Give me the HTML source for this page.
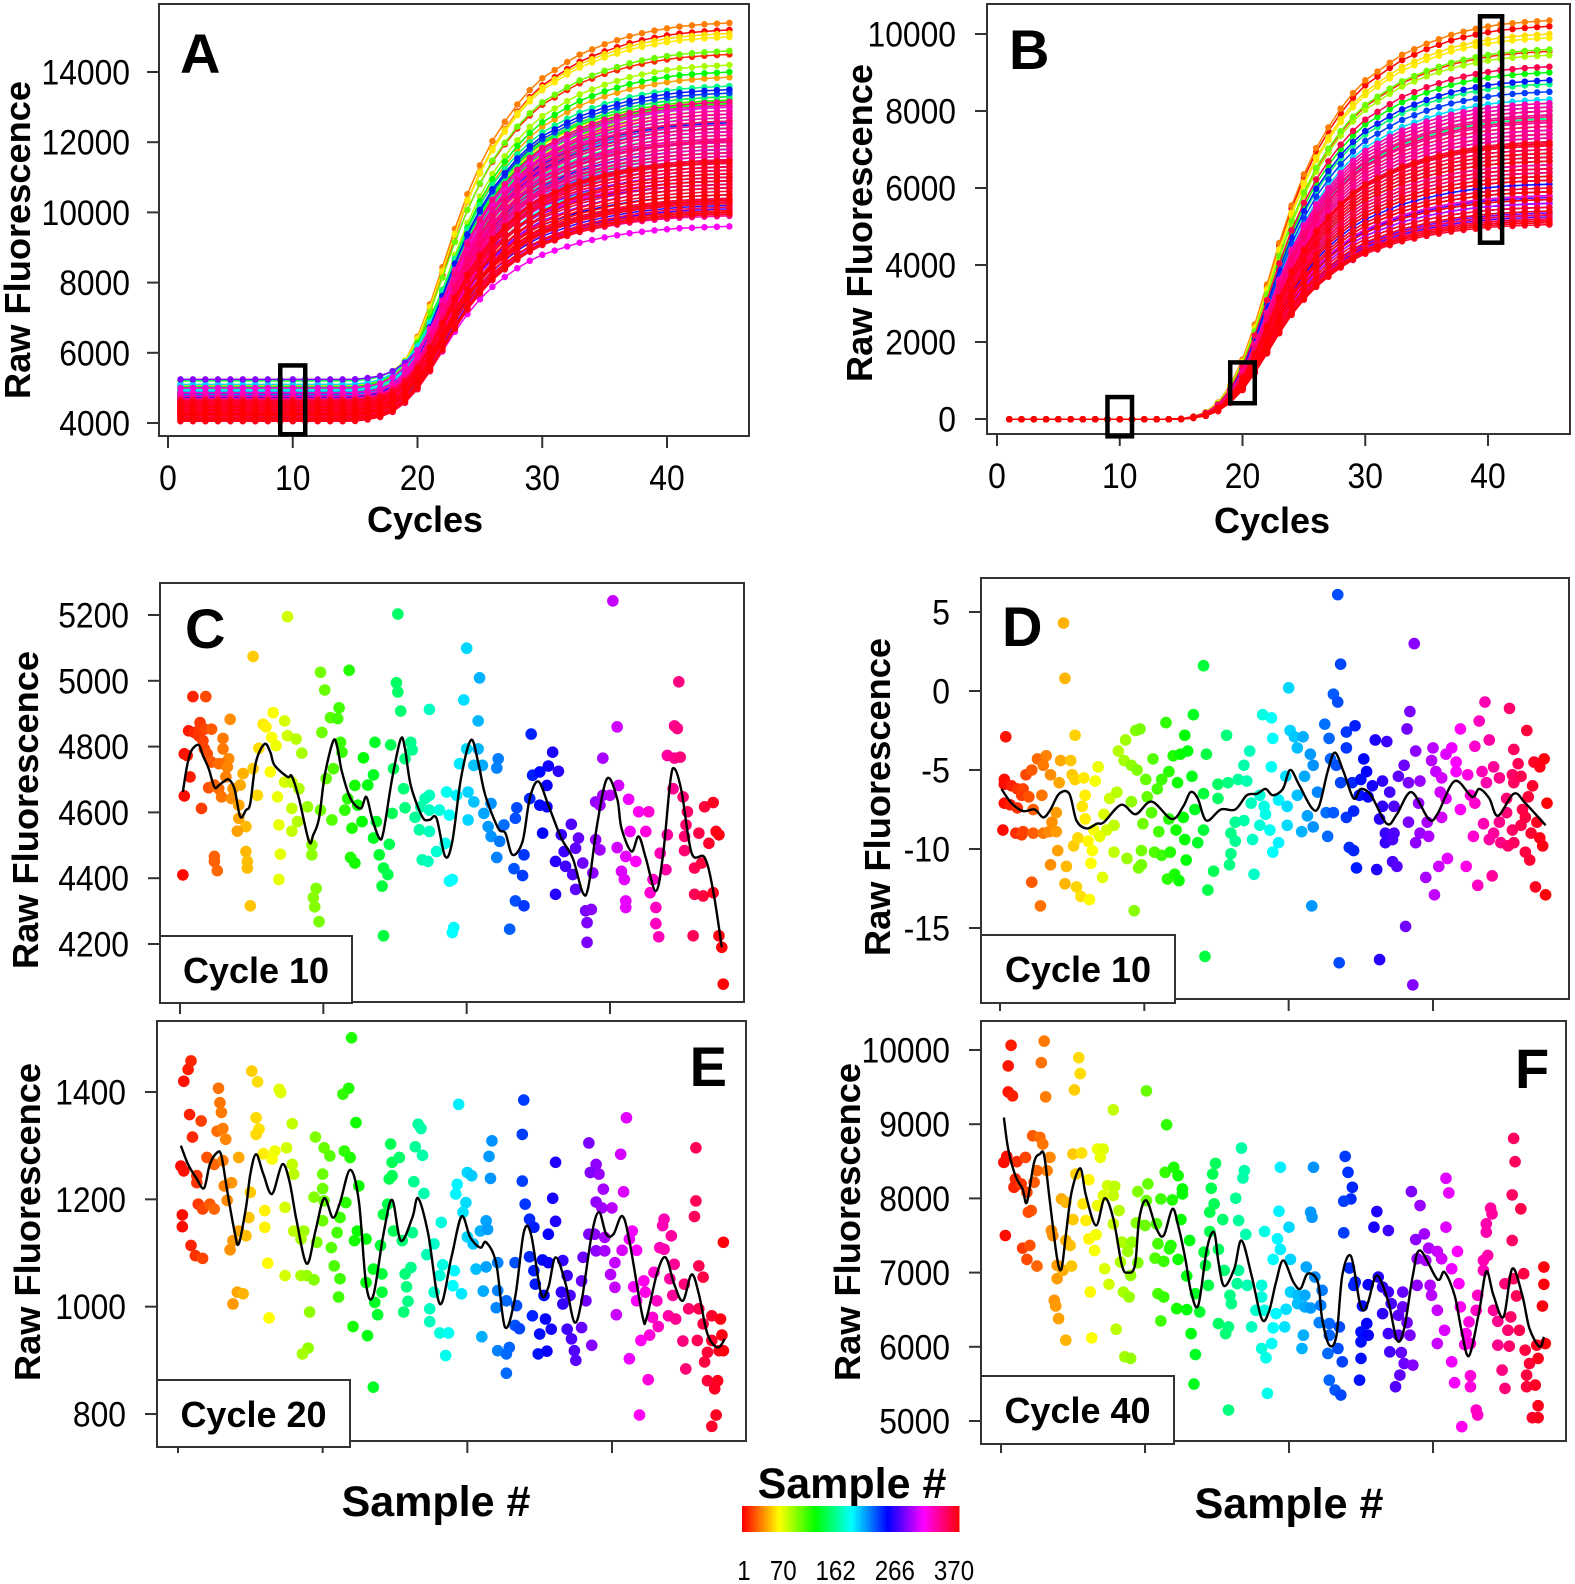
<!DOCTYPE html>
<html lang="en">
<head>
<meta charset="utf-8">
<title>Raw fluorescence by cycle and sample</title>
<style>
html,body{margin:0;padding:0;background:#fff}
svg{display:block}
text{font-family:"Liberation Sans",Arial,sans-serif;fill:#000}
</style>
</head>
<body>
<svg id="figure" xmlns="http://www.w3.org/2000/svg" width="1575" height="1584" viewBox="0 0 1575 1584"></svg>
<script>
/* ---------- amplification curves (panels A, B) ---------- */
const cycleTicks = [0,10,20,30,40];
const sampleTicks = [0,100,200,300];
const amplificationShape = [0,0,0,0,0,0,0,0,0,0,0,0,0,0,.001,.007,.018,.042,.085,.15,.238,.338,.442,.536,.614,.68,.732,.779,.818,.85,.872,.894,.914,.928,.942,.953,.964,.972,.979,.985,.99,.993,.996,.998,1];
const curveSamples = [1,4,7,10,13,16,19,22,25,28,
31,34,37,40,43,46,49,52,55,58,
61,64,67,70,73,76,79,82,85,88,
91,94,97,100,103,106,109,112,115,118,
121,124,127,130,133,136,139,142,145,148,
151,154,157,160,163,166,169,172,175,178,
181,184,187,190,193,196,199,202,205,208,
211,214,217,220,223,226,229,232,235,238,
241,244,247,250,253,256,259,262,265,268,
271,274,277,280,283,286,289,292,295,298,
301,304,307,310,313,316,319,322,325,328,
331,334,337,340,343,346,349,352,355,358,
361,364,367,370,
335,336,337,338,339,340,341,342,343,344,
345,346,347,348,349,350,351,352,353,354,
362,363,364,365,366,367,368,369,370,371,
372,373,374,375,376,377,378,379,379,380];
const baselineA = [4650,4780,4850,4950,4850,4750,4620,4850,4680,4830,
4880,4750,4640,4450,4420,4490,4320,5074,4870,4900,
4830,4720,4650,5195,4690,4830,4610,4570,4500,4370,
4660,5030,4970,4840,4920,4780,4710,4610,4730,4640,
5032,4600,4460,4770,4640,4810,4520,4220,4430,4810,
4600,5203,4970,4790,4670,4610,4550,4910,4640,4480,
4610,4660,4400,4590,4250,4940,5100,4790,4630,4580,
5009,4880,4760,4600,4510,4460,4580,4250,4430,4640,
4840,4700,4620,4540,4780,4720,4520,4480,4350,4440,
4300,4210,4760,4630,4650,5243,4860,4680,4500,4420,
4330,4600,4540,4460,4360,4310,4220,4470,4530,4997,
4860,4770,4670,4600,4530,4430,4350,4620,4530,4230,
4190,4078,4540,4360,
4650,4300,4500,4200,4600,4400,4350,4550,4250,4480,
4700,4150,4420,4380,4620,4280,4520,4180,4460,4340,
4500,4200,4600,4060,4400,4300,4550,4120,4650,4250,
4350,4450,4100,4050,4580,4220,4480,4380,4150,4280];
const plateauA = [15200,12600,13200,14500,12000,12800,11900,13300,12500,13000,
15400,12400,11800,13850,12300,11700,13100,12800,15100,15000,
13000,12700,13200,12000,13400,12500,11900,13100,14200,12600,
11800,13000,12300,14600,12900,13300,12400,11900,13000,12700,
13200,12100,14000,13100,12400,11700,11500,13000,12600,12000,
13300,11600,12700,13600,12200,13000,11800,12500,11400,12000,
11900,12300,11100,11600,12100,11300,12400,11800,11000,12000,
11500,10900,11700,12000,11200,10800,11500,10400,11000,13400,
11800,12550,13500,11000,10500,10900,12400,11300,10200,10700,
11500,10100,10900,11400,10300,10800,11100,12000,10000,11300,
10700,12300,11600,12800,11000,12500,9600,13000,11500,12100,
10900,12600,11300,9900,12000,10400,11700,11000,10300,11500,
10000,9950,11200,10350,
13050,12700,12300,12900,12100,11800,12500,11600,12800,12000,
11400,12200,11900,13150,11700,12400,11200,12600,11000,12050,
11500,10300,11200,10150,10800,11400,10400,9950,11000,10600,
11300,10050,10700,11100,10250,10900,11450,10350,10000,10500];
const plateauB = [10200,7400,7900,9550,7100,7600,6900,8200,7300,7800,
10350,7200,6800,8700,7100,6600,7900,7500,10000,9900,
7800,7400,8000,6900,8100,7300,6700,7900,9450,7300,
6600,7700,7100,9600,7600,8000,7200,6700,7800,7500,
8000,7000,9000,7900,7200,6500,6300,7800,7400,6900,
8200,6400,7500,8700,7000,7800,6600,7300,6200,6800,
6700,7100,5900,6400,6900,6100,8300,6600,5800,6800,
6300,5700,6500,6800,6000,5600,6300,5500,5900,8500,
6700,8100,8800,5800,5400,5700,7300,6100,5300,5600,
6400,5250,5750,6200,5350,5700,6000,8000,5150,6200,
5600,7200,6500,7700,5900,7400,5100,8000,6400,7000,
5800,7500,6200,5200,7100,5500,6600,5900,5300,6400,
9150,5150,6900,7150,
8200,7900,7500,8100,7300,7000,7700,6800,8000,7200,
6600,7400,7100,7850,6900,7600,6500,7750,6300,6700,
7200,5300,7000,5200,6500,7100,5500,5050,6800,6000,
6900,5150,6300,6700,5400,6200,7150,5700,5100,5900];

/* ---------- panel C: cycle 10, raw ---------- */
const samplesC = [3,2,7,3,5,9,18,6,10,14,14,13,17,22,16,17,19,15,20,24,22,30,30,35,34,30,27,33,32,27,29,37,36,41,44,51,42,54,41,46,40,24,24,26,46,47,47,49,51,55,58,60,65,73,64,67,63,75,81,85,75,68,73,78,83,69,78,89,82,78,70,69,92,92,95,93,94,97,98,101,99,105,111,110,112,113,107,102,98,106,122,128,131,135,115,117,124,120,127,137,135,119,122,136,118,139,142,145,141,142,146,147,151,152,154,152,161,162,157,149,156,157,148,164,167,174,174,171,168,174,181,186,193,188,174,169,173,179,185,188,190,191,190,198,200,200,208,195,205,211,201,205,201,209,208,222,221,217,212,215,217,223,221,226,234,235,230,234,240,233,239,240,245,244,246,251,256,251,256,253,260,257,264,273,266,278,268,276,262,269,274,281,262,276,283,287,284,284,295,290,295,300,293,305,302,306,313,290,293,288,308,310,311,311,305,314,325,320,327,311,318,330,328,332,332,334,335,340,339,348,345,347,340,345,349,344,351,354,353,352,352,359,364,358,359,365,372,366,372,362,369,374,376,376,378,379];
const valuesC = [4650,4410,4708,4778,4773,4952,4952,4848,4843,4853,4873,4833,4853,4853,4818,4793,4778,4612,4675,4683,4753,4825,4793,4883,4763,4748,4748,4738,4708,4672,4647,4672,4642,4622,4718,4733,4683,4652,4582,4557,4543,4466,4451,4423,4481,4451,4431,4316,5074,4795,4868,4860,4903,4878,4828,4803,4723,4833,4823,4780,5195,4647,4692,4692,4672,4562,4612,4617,4572,4543,4473,4396,4501,4471,4369,4341,4313,4268,5026,4972,4843,4888,4918,4885,4813,4783,4733,4703,4607,4577,4682,4766,4683,4714,4607,4642,4622,4552,4572,4572,4522,4463,4446,4813,5032,4471,4431,4411,4376,4225,4503,4805,4994,4966,4908,5203,4813,4790,4763,4733,4672,4614,4597,4585,4547,4913,4652,4642,4617,4607,4607,4662,4652,4592,4542,4456,4451,4481,4506,4391,4396,4250,4235,4942,5099,4793,4793,4748,4743,4743,4662,4632,4577,5009,4878,4763,4735,4627,4597,4557,4527,4512,4463,4562,4582,4614,4245,4331,4316,4429,4408,4471,4838,4642,4713,4723,4682,4622,4617,4537,4783,4741,4725,4564,4532,4522,4481,4491,4451,4436,4411,4446,4351,4366,4301,4305,4265,4205,4765,4632,4652,4652,4622,4860,5243,4682,4640,4517,4486,4416,4421,4396,4331,4311,4493,4542,4542,4602,4602,4466,4451,4396,4356,4311,4262,4222,4476,4532,4426,4997,4863,4855,4773,4765,4768,4672,4647,4602,4562,4527,4484,4431,4446,4225,4351,4346,4356,4617,4630,4537,4506,4542,4532,4225,4190,4078];
const trendSamplesC = [2,5,8,13,16,20,24,27,30,34,38,42,46,49,53,59,63,66,75,78,83,90,93,97,101,107,110,113,119,126,130,134,139,142,148,154,157,161,169,174,179,185,190,196,203,208,213,222,227,232,239,244,250,257,266,274,281,285,291,298,305,308,315,320,325,332,337,342,345,350,357,366,372,378];
const trendValuesC = [4662,4743,4788,4805,4773,4733,4677,4682,4692,4700,4672,4587,4607,4627,4753,4808,4783,4743,4708,4710,4642,4512,4532,4582,4713,4818,4793,4723,4642,4612,4647,4582,4522,4542,4703,4823,4793,4682,4587,4577,4582,4466,4512,4703,4820,4753,4652,4552,4537,4471,4512,4642,4694,4622,4522,4461,4356,4376,4562,4703,4642,4552,4481,4527,4461,4361,4471,4692,4733,4662,4476,4463,4361,4190];

/* ---------- panel D: cycle 10, baseline corrected ---------- */
const samplesD = [4,3,3,8,12,16,3,7,12,15,20,2,11,15,16,23,30,34,39,36,39,29,23,18,22,26,32,30,35,42,49,50,52,41,58,66,68,52,44,45,59,57,59,40,35,46,22,28,45,53,56,62,51,54,61,64,63,71,65,69,74,79,72,76,81,91,79,88,96,98,93,82,87,94,97,86,91,95,101,106,115,117,112,109,102,105,99,110,117,123,122,128,98,107,112,118,129,116,121,124,120,125,130,128,134,133,143,141,141,127,135,141,137,148,144,142,157,151,158,165,171,151,163,169,160,163,175,160,159,176,169,173,180,174,183,184,180,187,193,189,182,188,189,188,200,201,204,210,206,215,217,198,211,193,199,206,199,213,209,217,216,220,226,231,225,228,234,236,231,234,229,233,236,227,235,240,240,246,244,252,254,250,258,249,255,240,245,242,245,247,261,260,268,265,270,265,273,263,267,273,267,272,272,275,263,287,284,282,288,280,276,283,291,290,283,296,291,297,288,295,301,281,286,300,299,302,306,313,309,316,316,324,319,305,309,319,306,326,329,332,336,339,342,334,346,337,329,335,328,310,304,323,341,331,353,365,356,359,355,361,356,369,370,374,377,379,351,366,351,362,364,346,342,339,347,355,361,368,374,376,372,352,356,364,367,371,378];
const valuesD = [-2.9,-5.6,-5.9,-6,-6.2,-6.2,-7.1,-7.2,-7.4,-6.6,-6.7,-8.8,-9,-9.1,-8.9,-9,-9,-8.9,-8.9,-8.3,-7.7,-6.6,-7.5,-5.3,-5,-4.3,-4.1,-4.7,-5.3,-4.4,-4.4,-5.3,-5.6,-5.8,-5.5,-5.7,-4.8,-2.8,4.3,0.8,-6.6,-7.3,-8.1,-10.1,-11,-11.1,-12.1,-13.6,-12.2,-12.4,-13,-13.2,-9.8,-9.3,-9.5,-10.1,-10.9,-11.8,-8.8,-9.2,-8.8,-8.5,-7.8,-6.8,-6.4,-7,-10.2,-10.6,-11.2,-11,-13.9,-3.8,-3.1,-2.5,-2.4,-4.4,-4.7,-5,-5.6,-4.3,-2,-5.1,-5.6,-6.2,-6.7,-7.7,-8.4,-8.9,-8.1,-5.8,-8.8,-9.4,-10.1,-10.2,-10.4,-10.2,-10.7,-11.9,-11.6,-12,-4.1,-4,-3.8,-2.8,-1.5,-5.4,-4,1.6,-6.5,-8,-7.5,-8.8,-9.6,-11.4,-12.6,-16.8,-2.8,-5.9,-5.8,-5.6,-5.7,-6.8,-8.3,-8.2,-9,-9.5,-9.4,-10.3,-11,-11.6,-4.7,-3.8,-6.6,-7.1,-7.3,-7.8,-8.5,-8.8,-9.6,-10.2,-1.5,-1.7,-3,-4.8,0.2,-2.5,-2.9,-2.9,-3.6,-4,-4.7,-5.4,-5.4,-6.9,-7.3,-6.6,-8.5,-7.9,-8.9,-8.6,-13.6,-6.4,-7.7,-7.7,-2.1,-3,6.1,1.7,-0.2,-0.7,-4.3,-4.7,-5.8,-9.2,-17.2,-3.6,-2.6,-2.2,-5.8,-4.3,-5.1,-5.6,-6,-6.6,-6.7,-8,-7.6,-9.9,-10.1,-11.2,-11.3,-3.1,-3.2,-5.7,-6.4,-7.3,-7.3,-8.1,-9,-9,-9.6,-9.4,-10.8,-11.1,-17,3,-1.3,-2.4,-3.8,-4.7,-5.4,-5.8,-5.7,-7.1,-8.3,-8.3,-9,-9.2,-9.6,-11.8,-12.9,-14.9,-18.6,-3.6,-4.4,-5.1,-5.5,-3.6,-4,-4.5,-5.1,-5.3,-2.4,-6.4,-6.8,-7.5,-8,-6.6,-3.5,-1.9,-0.7,-3.1,-4.8,-5.1,-5.5,-5.8,-7.1,-8.4,-9.2,-10.6,-11.1,-11.1,-11.7,-12.3,-1.1,-2.5,-3.7,-4.6,-5.3,-5.4,-5.8,-6,-4.5,-4.8,-4.3,-7.1,-6.8,-6.7,-7.7,-7.5,-8,-8.3,-9,-9.4,-9.6,-8.8,-8.5,-9,-9.3,-9.8,-8.3,-9.8,-9.6,-10.2,-10.7,-12.4,-12.9];
const trendSamplesD = [1,8,16,24,30,35,41,48,53,60,67,72,84,94,105,119,127,132,137,143,153,163,171,178,184,189,196,201,207,216,221,227,232,238,245,250,257,268,275,285,297,303,315,327,332,339,345,356,364,378];
const trendValuesD = [-6.2,-7.1,-7.6,-7.5,-8,-7.5,-6.5,-6.5,-8.2,-8.7,-8.4,-8.3,-7.2,-7.8,-7,-8.1,-7.3,-6.4,-6.8,-8.2,-7.5,-7.5,-6.6,-6.5,-6.2,-6.6,-6.2,-5,-5.9,-7.4,-7.3,-5.1,-3.9,-5.1,-6.8,-6.2,-6.6,-8.4,-7.8,-6.4,-8.1,-7.8,-5.7,-6.7,-6.2,-6.8,-7.9,-6.5,-7.1,-8.5];

/* ---------- panel E: cycle 20 ---------- */
const samplesE = [2,4,4,7,9,8,16,10,3,3,9,12,17,13,13,14,17,22,25,20,25,31,28,29,30,27,31,33,37,32,34,42,36,38,42,47,49,50,51,55,54,56,54,59,67,65,70,71,79,75,79,80,60,60,74,80,87,85,62,74,85,89,94,38,41,45,63,91,90,86,95,101,105,100,100,94,101,115,119,114,118,120,123,125,116,112,100,110,96,106,124,122,130,108,112,111,121,131,135,147,148,153,148,146,145,142,163,164,169,166,168,170,149,162,155,140,135,141,161,157,130,141,136,138,158,159,156,172,177,182,183,191,181,190,177,174,174,181,187,196,185,194,193,192,199,197,200,203,200,204,217,215,216,213,209,214,206,213,221,221,211,220,210,239,238,238,240,243,246,233,243,227,234,221,229,227,227,233,236,245,256,246,252,261,259,261,256,266,247,253,265,266,271,269,254,258,250,249,255,269,279,272,274,275,286,280,279,282,284,289,285,291,294,289,300,293,284,288,295,289,295,302,299,302,303,310,306,308,314,307,317,312,312,319,315,322,317,323,331,328,320,326,332,325,336,335,341,333,336,329,343,340,342,339,344,358,358,357,360,363,350,353,360,349,359,363,351,364,366,366,373,371,372,369,369,375,376,369,374,377,377];
const valuesE = [1262,1253,1420,1442,1458,1358,1346,1316,1171,1149,1114,1095,1090,1244,1231,1191,1182,1191,1182,1278,1265,1272,1407,1380,1362,1327,1332,1312,1231,1225,1198,1278,1106,1123,1141,1132,1166,1213,1439,1419,1352,1331,1321,1285,1290,1275,1405,1399,1341,1296,1265,1247,1179,1148,1185,1141,1141,1126,1081,1058,1058,1058,1050,1005,1027,1024,979,990,923,912,1316,1296,1281,1247,1220,1204,1197,1290,1278,1396,1407,1501,1343,1225,1194,1166,1160,1138,1120,1110,1141,1123,1126,1076,1052,1018,963,946,850,1303,1269,1278,1244,1238,1191,1172,1233,1298,1282,1340,1332,1211,1141,1138,1123,1114,1070,1061,1073,1061,1045,1027,1008,985,1037,1010,990,1097,1117,1157,1078,1067,1058,1039,1027,996,972,951,951,1024,909,1377,1228,1210,1194,1176,1250,1244,1130,1117,1309,1280,1239,1160,1141,1144,1070,1074,1082,1030,1029,998,944,1385,1321,1234,1191,1163,1148,1082,1093,1011,1002,918,924,912,876,965,959,983,1135,1067,1087,1269,1202,1159,1082,1086,1042,1021,1027,1005,1021,1058,977,958,949,912,917,958,961,940,918,900,928,1092,1048,1011,1305,1265,1250,1247,1219,1195,1184,1184,1135,1135,1129,1104,1104,1082,1060,1036,985,1352,1284,1214,1141,1105,1105,1126,903,798,1037,1048,1011,1027,1011,980,937,947,963,864,1163,1151,1132,1110,1107,1064,1079,1052,1021,983,977,1296,1197,1168,1076,1055,1042,996,996,936,937,968,884,897,915,862,862,847,798,777,983,977,947,937,918,918,1120];
const trendSamplesE = [2,7,13,18,22,27,30,34,39,42,47,50,54,59,65,72,77,82,89,95,101,107,112,119,125,130,135,142,148,154,162,166,173,181,189,196,202,209,213,220,226,233,239,244,251,256,261,268,274,279,286,291,296,301,307,312,321,324,331,337,343,349,355,360,366,373,378];
const trendValuesE = [1300,1265,1238,1221,1265,1287,1281,1216,1141,1117,1185,1247,1284,1247,1210,1265,1234,1160,1080,1141,1202,1166,1194,1255,1197,1042,1021,1135,1199,1123,1166,1202,1135,1005,1092,1168,1129,1110,1120,1080,962,1017,1138,1135,1024,1036,1092,1042,971,1011,1135,1176,1135,1135,1169,1123,983,980,1061,1092,1042,1011,1060,1024,949,924,940];

/* ---------- panel F: cycle 40 ---------- */
const samplesF = [7,5,5,8,2,4,3,11,17,10,9,14,18,23,21,19,15,20,18,25,22,27,29,30,28,31,34,32,25,35,36,39,39,43,49,37,38,40,45,42,45,50,56,54,55,51,52,61,50,59,57,45,48,61,66,65,62,63,72,75,85,89,90,80,86,90,78,67,71,69,74,79,78,71,67,82,78,84,91,88,83,95,101,115,102,95,101,111,119,114,120,123,126,126,94,100,108,125,131,109,118,107,113,123,117,129,109,113,122,129,111,138,132,135,134,149,147,146,148,145,154,145,151,141,142,144,135,155,151,158,156,158,167,169,168,163,165,170,165,159,160,164,171,181,181,177,183,174,183,192,194,189,201,194,193,200,191,198,189,197,181,188,184,185,217,215,216,212,218,201,206,211,223,206,211,215,222,221,210,209,228,235,228,227,234,237,228,232,236,239,241,244,243,238,238,242,246,245,251,255,261,259,269,262,265,269,265,254,250,255,250,250,249,271,276,279,279,282,269,276,284,270,278,280,286,277,274,285,291,294,288,297,303,306,289,295,289,298,299,303,308,303,309,311,309,313,317,318,313,315,320,319,325,323,322,326,326,326,330,331,340,341,337,337,338,335,335,331,330,342,345,350,356,363,345,353,348,350,356,357,355,361,355,358,354,352,360,364,367,373,365,365,371,373,369,373,377,377,376,378,372];
const valuesF = [10063,9785,9435,9382,8486,8566,7500,8495,8553,8262,8150,8195,8083,8217,7836,7814,7330,7366,7178,7088,8844,8822,8732,10120,9830,9368,8553,8374,8374,7567,7500,7097,6918,7030,7088,6626,6550,6380,6089,7993,7948,8598,8611,9897,9682,9462,8329,8253,7715,7702,7926,7433,7366,7455,7509,7298,6739,6120,7052,6842,6738,6671,6963,6237,5865,5843,9194,8665,8665,8553,8172,8163,8038,8038,7903,7836,7657,7411,7411,7285,7142,7133,9449,8992,8195,8092,7971,7993,7980,8351,8419,8307,8127,8060,7670,7635,7657,7715,7433,7389,7366,7195,7151,7178,7321,6955,6716,6671,6515,6501,6349,6470,6178,5896,5498,8472,8329,8136,7926,7814,7715,7554,7312,7276,7097,6828,6716,7030,6313,6268,6178,5148,8678,8374,8275,8002,7702,7514,7030,6694,6582,6851,6828,6828,6671,6492,6492,6268,7554,7455,7312,7178,7178,8419,7827,7612,6447,6506,6255,6268,5977,6044,5852,5372,8419,7814,7746,7075,6940,6738,6694,6694,6761,6582,6537,6523,6559,6326,6156,5977,6313,6268,6156,5910,5977,5798,5551,5417,5350,8566,8351,8150,7993,7962,7536,7061,6873,6828,6550,6837,7823,7612,7567,6940,6806,6738,6447,6313,6201,6156,6066,5843,5551,6582,6425,6738,6537,6326,6178,6156,6156,5932,5923,5775,5753,5618,5462,8092,7904,7522,7446,7330,7285,7187,7187,7164,6828,6828,6694,6492,6223,6044,8271,8074,7612,7052,7285,6851,5798,5516,4924,6537,6335,6178,6030,6044,5610,5462,5148,5081,7868,7791,7657,7545,7231,7164,7030,6694,6492,6492,6344,6851,6918,6985,6022,6008,5686,5439,8808,8495,8047,7859,7433,6685,6403,6223,6223,5955,5775,5843,5618,5462,5484,5206,5045,5045,7075,6842,6550,6044,6022];
const trendSamplesF = [2,5,10,15,18,23,27,30,34,39,42,45,49,55,59,66,72,78,84,88,93,96,101,108,113,119,123,128,132,137,143,148,151,155,162,167,174,181,186,191,196,203,208,213,220,223,228,233,237,243,249,252,255,261,269,275,280,286,291,303,308,315,320,325,332,337,342,349,355,362,367,374,377];
const trendValuesF = [9090,8665,8307,8127,7948,8486,8598,8575,7948,7187,7052,7500,8083,8405,8038,7635,8002,7724,7097,7000,7097,7724,7971,7590,7500,7858,7635,7187,6738,6559,7321,7545,7142,6819,7052,7433,6962,6380,6470,6873,7164,6873,6783,6985,6873,6380,6022,6156,6962,7222,6604,6492,6604,6962,6604,6089,6246,6962,7299,6909,7007,6694,6201,5878,6470,7016,6694,6403,7052,6694,6246,6000,6134];

/* ---------- legend ---------- */
const legendLabels = ["1","70","162","266","370"];
const legendLabelSamples = [1,70,162,266,370];

const svg = document.getElementById('figure');
const NS = 'http://www.w3.org/2000/svg';
function node(tag, attrs, parent){
  const el = document.createElementNS(NS, tag);
  for (const k in attrs) el.setAttribute(k, attrs[k]);
  (parent || svg).appendChild(el);
  return el;
}
function hueOf(sample){ return 'hsl(' + (sample * 360 / 380) + ',100%,50%)'; }
function linear(d0, r0, d1, r1){ return function(v){ return r0 + (v - d0) * (r1 - r0) / (d1 - d0); }; }
function smoothPath(pts){
  let d = 'M' + pts[0][0] + ' ' + pts[0][1];
  for (let i = 0; i < pts.length - 1; i++){
    const p0 = pts[Math.max(i - 1, 0)], p1 = pts[i], p2 = pts[i + 1], p3 = pts[Math.min(i + 2, pts.length - 1)];
    d += 'C' + (p1[0] + (p2[0] - p0[0]) / 6) + ' ' + (p1[1] + (p2[1] - p0[1]) / 6) + ' ' +
         (p2[0] - (p3[0] - p1[0]) / 6) + ' ' + (p2[1] - (p3[1] - p1[1]) / 6) + ' ' + p2[0] + ' ' + p2[1];
  }
  return d;
}
function tickWidth(t){
  const s = String(t);
  return s.replace('-', '').length * 17.7 + (s.charAt(0) === '-' ? 11 : 0);
}

function drawFrame(g, c, xScale, yScale, xTicks, yTicks, showXLabels){
  const frame = node('rect', {x:c.left, y:c.top, width:c.right - c.left, height:c.bottom - c.top, fill:'none', stroke:'#333', 'stroke-width':2}, g);
  
  
  yTicks.forEach(function(t){
    const y = yScale(t);
    const tick = node('line', {x1:c.left - 12, x2:c.left, y1:y, y2:y, stroke:'#333', 'stroke-width':2}, g);
    
    
    const label = node('text', {x:c.left - (c.labelGap || 31), y:y + 12.5, 'text-anchor':'end', 'font-size':35, textLength:tickWidth(t), lengthAdjust:'spacingAndGlyphs'}, g);
    
    
    label.textContent = t;
  });
  xTicks.forEach(function(t){
    const x = xScale(t);
    const tick = node('line', {x1:x, x2:x, y1:c.bottom, y2:c.bottom + 12, stroke:'#333', 'stroke-width':2}, g);
    
    
    if (showXLabels){
      const label = node('text', {x:x, y:c.bottom + 54, 'text-anchor':'middle', 'font-size':35, textLength:tickWidth(t), lengthAdjust:'spacingAndGlyphs'}, g);
      
      
      label.textContent = t;
    }
  });
  const yt = node('text', {transform:'translate(' + c.ylabelX + ',' + c.ylabelY + ') rotate(-90)', 'text-anchor':'middle', 'font-size':36, 'font-weight':'bold', textLength:318, lengthAdjust:'spacingAndGlyphs'}, g);
  
  
  yt.textContent = 'Raw Fluorescence';
  const letter = node('text', {x:c.letterX, y:c.letterY, 'font-size':56, 'font-weight':'bold', 'text-anchor':c.letterAnchor || 'start'}, g);
  
  
  letter.textContent = c.letter;
}

function drawCurvePanel(c, baseFor, plateaus, yTicks, boxes){
  const g = node('g', {});
  
  
  const xScale = linear(0, c.x0, 40, c.x40);
  const yScale = linear(c.v0, c.y0, c.v1, c.y1);
  curveSamples.forEach(function(sample, i){
    const pts = amplificationShape.map(function(f, k){
      const v = baseFor(i) + (plateaus[i] - baseFor(i)) * f;
      return [xScale(k + 1).toFixed(1), yScale(v).toFixed(1)];
    });
    const line = node('path', {d:'M' + pts.map(function(p){ return p.join(' '); }).join('L'), fill:'none', stroke:hueOf(sample), 'stroke-width':1.5}, g);
    
    
    const dots = node('path', {d:pts.map(function(p){ return 'M' + p[0] + ' ' + p[1] + 'l0 0'; }).join(''), fill:'none', stroke:hueOf(sample), 'stroke-width':6.5, 'stroke-linecap':'round'}, g);
    
    
  });
  drawFrame(g, c, xScale, yScale, cycleTicks, yTicks, true);
  const axis = node('line', {x1:xScale(0), x2:xScale(40), y1:c.bottom, y2:c.bottom, stroke:'#333', 'stroke-width':2}, g);
  
  
  const xt = node('text', {x:c.xlabelX, y:c.xlabelY, 'text-anchor':'middle', 'font-size':36, 'font-weight':'bold'}, g);
  
  
  xt.textContent = 'Cycles';
  boxes.forEach(function(b){
    const r = node('rect', {x:xScale(b[0]), y:yScale(b[3]), width:xScale(b[1]) - xScale(b[0]), height:yScale(b[2]) - yScale(b[3]), fill:'none', stroke:'#000', 'stroke-width':4.5}, g);
    
    
  });
}

function drawScatterPanel(c, samples, values, trendS, trendV, yTicks){
  const g = node('g', {});
  
  
  const xScale = linear(0, c.x0, 300, c.x300);
  const yScale = linear(c.v0, c.y0, c.v1, c.y1);
  samples.forEach(function(s, i){
    const dot = node('circle', {cx:xScale(s), cy:yScale(values[i]), r:5.8, fill:hueOf(s)}, g);
    
    
  });
  const pts = trendS.map(function(s, i){ return [xScale(s), yScale(trendV[i])]; });
  const trend = node('path', {d:smoothPath(pts), fill:'none', stroke:'#000', 'stroke-width':2.4}, g);
  
  
  drawFrame(g, c, xScale, yScale, sampleTicks, yTicks, false);
  const box = node('rect', {x:c.left, y:c.tagTop, width:c.tagWidth, height:c.tagHeight, fill:'#fff', stroke:'#333', 'stroke-width':2}, g);
  
  
  const tag = node('text', {x:c.left + c.tagWidth / 2, y:c.tagTop + 47, 'text-anchor':'middle', 'font-size':36, 'font-weight':'bold'}, g);
  
  
  tag.textContent = c.tag;
}

drawCurvePanel({letter:'A',left:159,right:749,top:4,bottom:436,x0:168,x40:667,v0:4000,y0:423,v1:14000,y1:72,labelGap:29,
  ylabelX:30,ylabelY:240,letterX:180,letterY:73,xlabelX:425,xlabelY:532},
  function(i){ return baselineA[i]; }, plateauA, [4000,6000,8000,10000,12000,14000], [[9,11,3680,5640]]);
drawCurvePanel({letter:'B',left:987,right:1570,top:4,bottom:434,x0:997,x40:1488,v0:0,y0:419,v1:10000,y1:34,
  ylabelX:872,ylabelY:223,letterX:1009,letterY:69,xlabelX:1272,xlabelY:533},
  function(){ return -7; }, plateauB, [0,2000,4000,6000,8000,10000], [[9,11,-450,570],[19,21,410,1470],[39.35,41.15,4580,10460]]);

drawScatterPanel({letter:'C',left:160,right:744,top:583,bottom:1002,x0:180,x300:610,v0:4200,y0:944,v1:5200,y1:615,
  ylabelX:38,ylabelY:810,letterX:185,letterY:648,tag:'Cycle 10',tagTop:936,tagWidth:192,tagHeight:67},
  samplesC, valuesC, trendSamplesC, trendValuesC, [4200,4400,4600,4800,5000,5200]);
drawScatterPanel({letter:'D',left:981,right:1569,top:578,bottom:999,x0:1000,x300:1433,v0:-15,y0:928,v1:5,y1:612,
  ylabelX:890,ylabelY:797,letterX:1002,letterY:646,tag:'Cycle 10',tagTop:935,tagWidth:194,tagHeight:68},
  samplesD, valuesD, trendSamplesD, trendValuesD, [-15,-10,-5,0,5]);
drawScatterPanel({letter:'E',left:157,right:746,top:1021,bottom:1441,x0:178,x300:612,v0:800,y0:1414,v1:1400,y1:1092,
  ylabelX:40,ylabelY:1222,letterX:727,letterY:1086,letterAnchor:'end',tag:'Cycle 20',tagTop:1380,tagWidth:193,tagHeight:67},
  samplesE, valuesE, trendSamplesE, trendValuesE, [800,1000,1200,1400]);
drawScatterPanel({letter:'F',left:981,right:1566,top:1021,bottom:1441,x0:1001,x300:1433,v0:5000,y0:1421,v1:10000,y1:1050,
  ylabelX:860,ylabelY:1222,letterX:1515,letterY:1088,tag:'Cycle 40',tagTop:1376,tagWidth:193,tagHeight:68},
  samplesF, valuesF, trendSamplesF, trendValuesF, [5000,6000,7000,8000,9000,10000]);

/* sample axis titles */
const sampleTitleLeft = node('text', {x:436, y:1516, 'text-anchor':'middle', 'font-size':43, 'font-weight':'bold'});


sampleTitleLeft.textContent = 'Sample #';
const sampleTitleRight = node('text', {x:1289, y:1518, 'text-anchor':'middle', 'font-size':43, 'font-weight':'bold'});


sampleTitleRight.textContent = 'Sample #';

/* colour legend */
const legend = node('g', {});


const legendTitle = node('text', {x:852, y:1498, 'text-anchor':'middle', 'font-size':43, 'font-weight':'bold'}, legend);


legendTitle.textContent = 'Sample #';
const legendX = linear(0, 742, 380, 959);
for (let s = 0; s < 380; s += 4){
  const swatch = node('rect', {x:legendX(s), y:1506, width:legendX(4) - legendX(0) + 0.5, height:26, fill:hueOf(s)}, legend);
  
  
}
const legendPositions = linear(1, 744, 370, 954);
legendLabels.forEach(function(t, i){
  const label = node('text', {x:legendPositions(legendLabelSamples[i]), y:1580, 'text-anchor':'middle', 'font-size':28, textLength:t.length * 13.4, lengthAdjust:'spacingAndGlyphs'}, legend);
  
  
  label.textContent = t;
});
</script>
</body>
</html>
